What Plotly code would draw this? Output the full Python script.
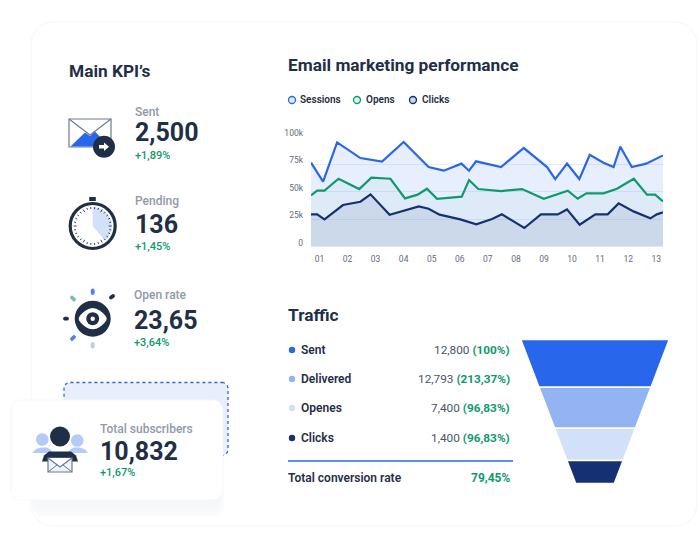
import math
import plotly.graph_objects as go

W, H = 700, 538

# area chart (k)
sessions_x = [0.70, 1.13, 1.63, 2.46, 3.23, 4.00, 4.89, 5.43, 6.06, 6.33, 6.58, 7.47, 8.28, 9.11, 9.40, 9.82, 10.26, 10.63, 11.12, 11.48, 11.72, 12.13, 12.64, 13.24]
sessions_y = [76.4, 59.1, 94.8, 80.6, 77.3, 95.2, 72.4, 69.1, 75.5, 69.1, 77.6, 72.4, 89.7, 72.4, 61.5, 75.5, 61.5, 83.6, 76.4, 72.4, 90.9, 72.4, 75.5, 83.0]
opens_x = [0.70, 0.92, 1.18, 1.68, 2.42, 2.85, 3.53, 4.05, 4.50, 4.83, 5.19, 6.07, 6.33, 6.66, 7.47, 8.22, 8.99, 9.85, 10.20, 10.51, 11.12, 11.60, 12.20, 12.67, 12.96, 13.24]
opens_y = [46.7, 50.9, 50.9, 61.8, 52.4, 62.7, 61.8, 43.9, 47.3, 52.7, 43.6, 45.5, 60.6, 52.4, 50.6, 52.4, 43.6, 50.9, 43.6, 48.5, 48.5, 52.7, 61.8, 47.3, 47.3, 41.2]
clicks_x = [0.70, 0.92, 1.18, 1.84, 2.46, 2.82, 3.50, 4.00, 4.54, 4.89, 5.28, 6.02, 6.59, 7.15, 7.50, 8.30, 8.89, 9.49, 9.82, 10.27, 10.83, 11.27, 11.66, 12.19, 12.79, 13.02, 13.24]
clicks_y = [29.4, 29.4, 24.8, 37.9, 40.9, 47.6, 29.1, 33.0, 36.7, 34.5, 29.1, 24.8, 20.3, 25.2, 29.4, 17.0, 29.4, 29.4, 33.9, 20.0, 29.4, 29.4, 39.4, 32.1, 25.8, 29.4, 31.2]
x_ticks = [1, 2, 3, 4, 5, 6, 7, 8, 9, 10, 11, 12, 13]
x_labels = ['01', '02', '03', '04', '05', '06', '07', '08', '09', '10', '11', '12', '13']
y_ticks = [0, 25, 50, 75, 100]
y_labels = ['0', '25k', '50k', '75k', '100k']

# traffic table + funnel
traffic_names = ['Sent', 'Delivered', 'Openes', 'Clicks']
traffic_counts = ['12,800', '12,793', '7,400', '1,400']
traffic_pct = ['(100%)', '(213,37%)', '(96,83%)', '(96,83%)']
funnel_areas = [5824, 3685, 2060, 1023]

# kpi blocks
kpi_names = ['Sent', 'Pending', 'Open rate', 'Total subscribers']
kpi_values = ['2,500', '136', '23,65', '10,832']
kpi_changes = ['+1,89%', '+1,45%', '+3,64%', '+1,67%']

NAVY = '#1F2F46'
GREY = '#8F99A8'
GREEN = '#0E9A6E'
BLUE = '#2866EC'
MID = '#94B3F3'
PALE = '#D3E0FA'
DARK = '#143273'
FONT = 'Roboto'


def px(x):
    return x / W


def py(y):
    return 1 - y / H


shapes = []
notes = []


def poly(points, fill, line=None, width=0, close=True):
    d = 'M' + ' L'.join('%.5f,%.5f' % (px(a), py(b)) for a, b in points)
    if close:
        d += ' Z'
    shapes.append(dict(type='path', xref='paper', yref='paper', path=d, fillcolor=fill, layer='below',
                       line=dict(color=line or 'rgba(0,0,0,0)', width=width)))


def circle(cx, cy, r, fill, line=None, width=0):
    shapes.append(dict(type='circle', xref='paper', yref='paper', x0=px(cx - r), x1=px(cx + r), y0=py(cy + r),
                       y1=py(cy - r), fillcolor=fill, layer='below', line=dict(color=line or 'rgba(0,0,0,0)', width=width)))


def seg(x0, y0, x1, y1, color, width):
    shapes.append(dict(type='line', xref='paper', yref='paper', x0=px(x0), x1=px(x1), y0=py(y0), y1=py(y1),
                       layer='below', line=dict(color=color, width=width)))


def pill(x0, y0, x1, y1, r, color):
    # short dash with round ends
    base = math.atan2(y1 - y0, x1 - x0)
    pts = []
    for cx, cy, start in [(x1, y1, base - math.pi / 2), (x0, y0, base + math.pi / 2)]:
        for k in range(9):
            a = start + k * math.pi / 8
            pts.append((cx + r * math.cos(a), cy + r * math.sin(a)))
    poly(pts, color)


def round_rect(x0, y0, x1, y1, r, fill, line=None, width=0, dash='solid'):
    pts = []
    for cx, cy, start in [(x1 - r, y0 + r, -90), (x1 - r, y1 - r, 0), (x0 + r, y1 - r, 90), (x0 + r, y0 + r, 180)]:
        for k in range(7):
            a = math.radians(start + k * 15)
            pts.append((cx + r * math.cos(a), cy + r * math.sin(a)))
    d = 'M' + ' L'.join('%.5f,%.5f' % (px(a), py(b)) for a, b in pts) + ' Z'
    shapes.append(dict(type='path', xref='paper', yref='paper', path=d, fillcolor=fill, layer='below',
                       line=dict(color=line or 'rgba(0,0,0,0)', width=width, dash=dash)))


def text(x, y, s, size, color, weight=400, anchor='left'):
    # annotations carry about 2px of padding
    shift = -2 if anchor == 'left' else 2
    notes.append(dict(xref='paper', yref='paper', x=px(x), y=py(y), text=s, showarrow=False, xanchor=anchor,
                      yanchor='middle', xshift=shift, yshift=0, font=dict(family=FONT, size=size, color=color, weight=weight)))


#####
# Cards
#####
round_rect(31, 22, 697, 526, 22, '#FFFFFF', '#F5F6F9', 1)
for i, c in enumerate(['#FCFCFD', '#FAFAFC', '#F8F9FA', '#F6F7F9']):
    round_rect(30 + i, 486, 224 - i, 517 - i * 3, 10, c)
round_rect(64, 382.5, 228, 455.5, 6, '#E8EEFB', BLUE, 1.3, 'dot')
round_rect(11, 400, 223, 500, 10, '#FFFFFF', '#F6F7FA', 1)

#####
# Icons
#####
# envelope
poly([(69, 119), (111, 119), (111, 147), (69, 147)], '#FFFFFF', '#6C7A8E', 1.2)
poly([(70.5, 146.5), (85, 132.5), (90, 136), (95, 131.5), (109, 146.5)], BLUE)
poly([(69, 119), (90, 135), (111, 119)], 'rgba(0,0,0,0)', '#6C7A8E', 1.2, close=False)
circle(104, 146.7, 11, NAVY)
poly([(99, 145), (104, 145), (104, 142.5), (109, 146.7), (104, 151), (104, 148.5), (99, 148.5)], '#FFFFFF')

# stopwatch
circle(92.7, 226, 22.5, '#FFFFFF', NAVY, 3.2)
poly([(89.2, 197), (95.8, 197), (95.8, 201), (89.2, 201)], NAVY)
wedge = [(92.7, 226)]
for deg in range(0, 141, 10):
    a = math.radians(deg - 90)
    wedge.append((92.7 + 19 * math.cos(a), 226 + 19 * math.sin(a)))
poly(wedge, PALE)
for k in range(30):
    a = math.radians(k * 12)
    ln = 3 if k % 5 == 0 else 2
    seg(92.7 + 19 * math.cos(a), 226 + 19 * math.sin(a), 92.7 + (19 - ln) * math.cos(a),
        226 + (19 - ln) * math.sin(a), NAVY, 0.9)

# eye
circle(92.7, 318.7, 18, NAVY)
almond = []
for deg in range(0, 360, 15):
    a = math.radians(deg)
    almond.append((92.7 + 14 * math.cos(a), 318.7 + 8.5 * math.sin(a) * (1 - 0.25 * math.cos(2 * a))))
poly(almond, '#FFFFFF')
circle(92.7, 318.7, 6.5, NAVY)
circle(92.7, 318.7, 2.2, '#FFFFFF')
for x0, y0, x1, y1, c in [(92.7, 290.5, 92.7, 293, '#4C82F0'), (111, 297.5, 113, 296, NAVY),
                           (72, 297.5, 74, 299.5, '#74BFA8'), (65, 318.7, 67, 318.7, NAVY),
                           (72, 339, 74, 337, '#4C82F0'), (92.7, 344, 92.7, 346.5, '#B4CBF5')]:
    pill(x0, y0, x1, y1, 1.9, c)

# people + envelope
circle(42.3, 439.5, 6.3, '#B4CBF5')
circle(77.3, 440.5, 6.3, '#B4CBF5')
poly([(32, 453), (36, 449), (41, 447.5), (47, 447.5), (51, 450), (53, 453)], '#B4CBF5')
poly([(67, 453), (71, 449), (74, 447.5), (80, 447.5), (85, 449.5), (88, 453)], '#B4CBF5')
circle(60, 436.5, 10, NAVY)
poly([(42, 461.5), (44, 455.5), (49, 451.5), (71, 451.5), (76, 455.5), (78, 461.5)], NAVY)
poly([(48, 458), (72, 458), (72, 472), (48, 472)], '#EEF2FB', '#6C7A8E', 1.2)
poly([(48, 458), (60, 467), (72, 458)], '#FFFFFF', '#6C7A8E', 1.2, close=False)
seg(48, 472, 57, 465, '#6C7A8E', 1)
seg(72, 472, 63, 465, '#6C7A8E', 1)

#####
# Texts
#####
text(69, 71, 'Main KPI’s', 17.3, NAVY, 700)
text(288, 65, 'Email marketing performance', 17.3, NAVY, 700)
text(288, 315, 'Traffic', 17.3, NAVY, 700)

kpi_pos = [(135, 112, 133, 155), (135, 201, 225, 246), (134, 295, 320, 342), (100, 429, 451, 472)]
for i, (x, y0, y1, y2) in enumerate(kpi_pos):
    text(x, y0, kpi_names[i], 12, GREY, 500)
    text(x, y1, kpi_values[i], 25, NAVY, 700)
    text(x, y2, kpi_changes[i], 11, GREEN, 500)

# legend is drawn by hand, the plotly one cant keep the tight circle-text gap
legend_items = [('Sessions', 292, 300, BLUE, '#E6EDFB'), ('Opens', 357, 366, GREEN, '#E0F1EB'), ('Clicks', 413, 422, DARK, '#CDD6E6')]
for name, cx, tx, c, f in legend_items:
    circle(cx, 100, 3.5, f, c, 1.3)
    text(tx, 100, name, 10, NAVY, 600)

# traffic table
row_y = [350, 379, 408, 438]
dots = [BLUE, MID, PALE, DARK]
for i, y in enumerate(row_y):
    circle(292, y, 3.2, dots[i])
    text(301, y, traffic_names[i], 12, NAVY, 600)
    text(510, y, '%s <span style="color:%s"><b>%s</b></span>' % (traffic_counts[i], GREEN, traffic_pct[i]), 11.8, '#4A5668', 400, 'right')
seg(288, 461, 513, 461, '#5B8DF6', 2)
text(288, 478, 'Total conversion rate', 12, NAVY, 600)
text(510, 478, '79,45%', 12, GREEN, 700, 'right')

#####
# Traces
#####
fig = go.Figure()
fig.add_trace(go.Scatter(x=sessions_x, y=sessions_y, name='Sessions', mode='lines', fill='tozeroy',
                         fillcolor='rgba(40,102,236,0.115)', line=dict(color=BLUE, width=2.2)))
fig.add_trace(go.Scatter(x=opens_x, y=opens_y, name='Opens', mode='lines', fill='tozeroy',
                         fillcolor='rgba(14,154,110,0.035)', line=dict(color=GREEN, width=2.2)))
fig.add_trace(go.Scatter(x=clicks_x, y=clicks_y, name='Clicks', mode='lines', fill='tozeroy',
                         fillcolor='rgba(20,50,115,0.09)', line=dict(color=DARK, width=2.2)))
fig.add_trace(go.Funnelarea(labels=traffic_names, values=funnel_areas, textinfo='none', showlegend=False,
                            marker=dict(colors=dots, line=dict(color='#FFFFFF', width=1.5)),
                            baseratio=0.26, aspectratio=0.97,
                            domain=dict(x=[px(520), px(670)], y=[py(483.5), py(339.5)])))

fig.update_layout(
    width=W, height=H, margin=dict(l=0, r=0, t=0, b=0),
    paper_bgcolor='#FFFFFF', plot_bgcolor='rgba(0,0,0,0)',
    showlegend=False, shapes=shapes, annotations=notes,
    font=dict(family=FONT, color='#5F6B7C', size=9),
    xaxis=dict(domain=[px(311), px(663)], range=[0.70, 13.24], tickvals=x_ticks, ticktext=x_labels,
               showgrid=False, zeroline=False, showline=False, ticks='', ticklabelstandoff=6, automargin=False,
               tickfont=dict(size=8.5, color='#5F6B7C')),
    yaxis=dict(domain=[py(246.7), py(136.7)], range=[0, 100], tickvals=y_ticks, ticktext=y_labels,
               showgrid=True, gridcolor='#EBEEF3', gridwidth=1, zeroline=False, showline=False, ticks='', automargin=False,
               ticklabelstandoff=7, ticklabelshift=-4, tickfont=dict(size=8.5, color='#5F6B7C')),
)

# body margin would push the whole picture 8px off
fig.write_html("out.html", post_script="document.body.style.margin='0';", config=dict(displayModeBar=False))
